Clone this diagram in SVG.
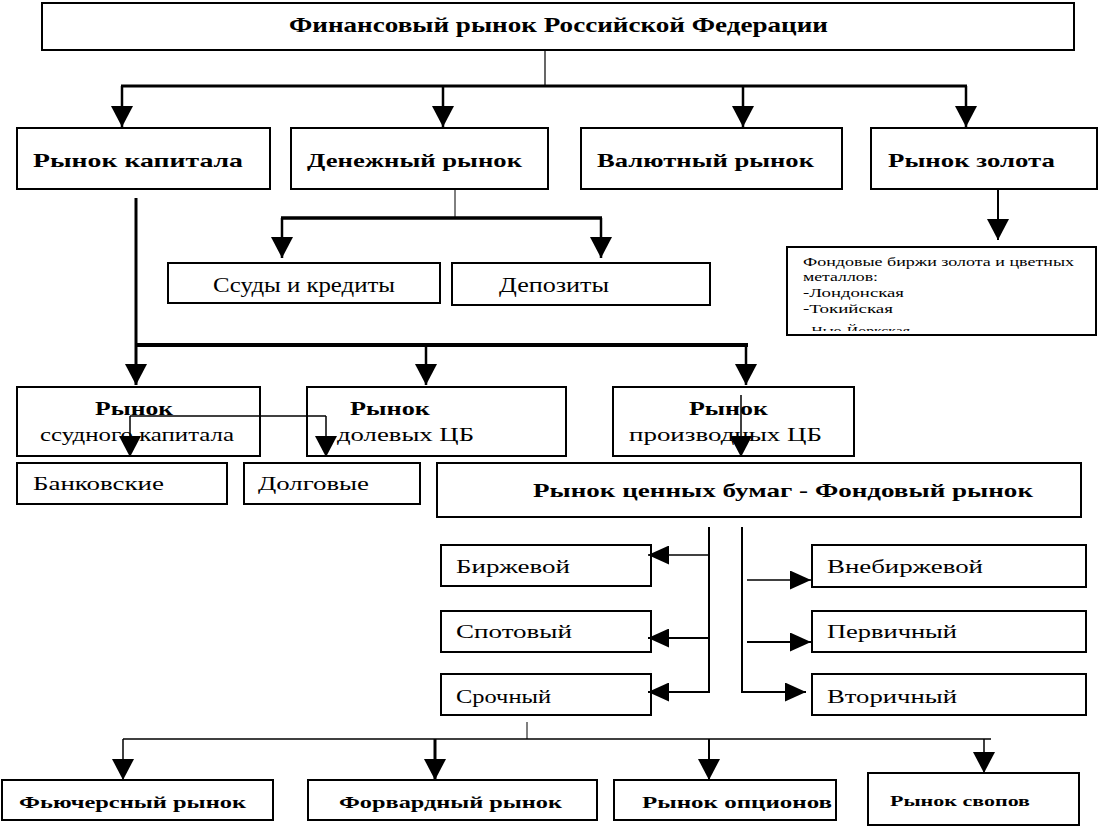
<svg xmlns="http://www.w3.org/2000/svg" width="1103" height="831" viewBox="0 0 1103 831">
<style>
.box{fill:#fff;stroke:#000;stroke-width:2}
.b{font-family:"Liberation Serif","DejaVu Serif",serif;font-weight:bold;fill:#000}
.n{font-family:"Liberation Serif","DejaVu Serif",serif;font-weight:normal;fill:#000}
.c line,.c path{stroke:#000;fill:none}
</style>
<defs>
<marker id="ah" viewBox="0 0 21 22" refX="21" refY="11" markerWidth="21" markerHeight="22" markerUnits="userSpaceOnUse" orient="auto">
<path d="M0,0 L21,11 L0,22 z" fill="#000"/>
</marker>
<marker id="ahs" viewBox="0 0 21 19" refX="21" refY="9.5" markerWidth="21" markerHeight="19" markerUnits="userSpaceOnUse" orient="auto">
<path d="M0,0 L21,9.5 L0,19 z" fill="#000"/>
</marker>
<clipPath id="goldclip"><rect x="787" y="248" width="308" height="83"/></clipPath>
</defs>

<g id="n-root"><rect class="box" x="42" y="3" width="1032" height="47"/>
<text class="b" x="289" y="32" font-size="21" textLength="539" lengthAdjust="spacingAndGlyphs">Финансовый  рынок Российской Федерации</text></g>

<g id="n-capital"><rect class="box" x="17" y="128" width="253" height="61"/>
<text class="b" x="33" y="167" font-size="19" textLength="210" lengthAdjust="spacingAndGlyphs">Рынок  капитала</text></g>
<g id="n-money"><rect class="box" x="291" y="128" width="257" height="61"/>
<text class="b" x="307" y="167" font-size="19" textLength="215" lengthAdjust="spacingAndGlyphs">Денежный рынок</text></g>
<g id="n-currency"><rect class="box" x="581" y="128" width="261" height="61"/>
<text class="b" x="597" y="167" font-size="19" textLength="217" lengthAdjust="spacingAndGlyphs">Валютный рынок</text></g>
<g id="n-gold"><rect class="box" x="871" y="128" width="226" height="61"/>
<text class="b" x="888" y="167" font-size="19" textLength="167" lengthAdjust="spacingAndGlyphs">Рынок золота</text></g>

<g id="n-loans"><rect class="box" x="168" y="263" width="272" height="40"/>
<text class="n" x="213" y="292" font-size="20" textLength="182" lengthAdjust="spacingAndGlyphs">Ссуды и кредиты</text></g>
<g id="n-deposits"><rect class="box" x="452" y="263" width="258" height="42"/>
<text class="n" x="499" y="292" font-size="20" textLength="110" lengthAdjust="spacingAndGlyphs">Депозиты</text></g>

<g id="n-goldex"><rect class="box" x="787" y="247" width="309" height="88"/>
<g clip-path="url(#goldclip)">
<text class="n" x="803" y="266" font-size="13" textLength="271" lengthAdjust="spacingAndGlyphs">Фондовые биржи золота и цветных</text>
<text class="n" x="803" y="281" font-size="13" textLength="75" lengthAdjust="spacingAndGlyphs">металлов:</text>
<text class="n" x="803" y="297" font-size="13" textLength="101" lengthAdjust="spacingAndGlyphs">-Лондонская</text>
<text class="n" x="803" y="313" font-size="13" textLength="90" lengthAdjust="spacingAndGlyphs">-Токийская</text>
<text class="n" x="806" y="335" font-size="13" textLength="104" lengthAdjust="spacingAndGlyphs">-Нью-Йоркская</text>
</g></g>

<g id="n-loancap"><rect class="box" x="17" y="387" width="243" height="69"/>
<text class="b" x="95" y="415" font-size="19" textLength="78" lengthAdjust="spacingAndGlyphs">Рынок</text>
<text class="n" x="40" y="441" font-size="19" textLength="194" lengthAdjust="spacingAndGlyphs">ссудного капитала</text></g>
<g id="n-equity"><rect class="box" x="307" y="387" width="259" height="69"/>
<text class="b" x="350" y="415" font-size="19" textLength="80" lengthAdjust="spacingAndGlyphs">Рынок</text>
<text class="n" x="337" y="441" font-size="19" textLength="137" lengthAdjust="spacingAndGlyphs">долевых ЦБ</text></g>
<g id="n-deriv"><rect class="box" x="613" y="387" width="241" height="69"/>
<text class="b" x="689" y="415" font-size="19" textLength="79" lengthAdjust="spacingAndGlyphs">Рынок</text>
<text class="n" x="629" y="441" font-size="19" textLength="193" lengthAdjust="spacingAndGlyphs">производных ЦБ</text></g>

<g id="n-bank"><rect class="box" x="17" y="463" width="210" height="41"/>
<text class="n" x="33" y="490" font-size="18" textLength="131" lengthAdjust="spacingAndGlyphs">Банковские</text></g>
<g id="n-debt"><rect class="box" x="244" y="463" width="176" height="41"/>
<text class="n" x="258" y="490" font-size="18" textLength="111" lengthAdjust="spacingAndGlyphs">Долговые</text></g>
<g id="n-securities"><rect class="box" x="437" y="463" width="644" height="54"/>
<text class="b" x="533" y="497" font-size="19" textLength="500" lengthAdjust="spacingAndGlyphs">Рынок  ценных бумаг - Фондовый рынок</text></g>

<g id="n-exch"><rect class="box" x="441" y="545" width="210" height="41"/>
<text class="n" x="456" y="573" font-size="19" textLength="114" lengthAdjust="spacingAndGlyphs">Биржевой</text></g>
<g id="n-spot"><rect class="box" x="441" y="611" width="210" height="41"/>
<text class="n" x="456" y="638" font-size="19" textLength="116" lengthAdjust="spacingAndGlyphs">Спотовый</text></g>
<g id="n-term"><rect class="box" x="441" y="674" width="210" height="41"/>
<text class="n" x="456" y="703" font-size="19" textLength="95" lengthAdjust="spacingAndGlyphs">Срочный</text></g>
<g id="n-otc"><rect class="box" x="812" y="545" width="274" height="42"/>
<text class="n" x="827" y="573" font-size="19" textLength="156" lengthAdjust="spacingAndGlyphs">Внебиржевой</text></g>
<g id="n-primary"><rect class="box" x="812" y="611" width="274" height="41"/>
<text class="n" x="827" y="638" font-size="19" textLength="130" lengthAdjust="spacingAndGlyphs">Первичный</text></g>
<g id="n-secondary"><rect class="box" x="812" y="674" width="274" height="41"/>
<text class="n" x="827" y="703" font-size="19" textLength="130" lengthAdjust="spacingAndGlyphs">Вторичный</text></g>

<g id="n-futures"><rect class="box" x="2" y="780" width="271" height="40"/>
<text class="b" x="19" y="808" font-size="17" textLength="227" lengthAdjust="spacingAndGlyphs">Фьючерсный рынок</text></g>
<g id="n-forward"><rect class="box" x="308" y="780" width="289" height="40"/>
<text class="b" x="339" y="808" font-size="17" textLength="223" lengthAdjust="spacingAndGlyphs">Форвардный рынок</text></g>
<g id="n-options"><rect class="box" x="614" y="780" width="222" height="40"/>
<text class="b" x="642" y="808" font-size="17" textLength="190" lengthAdjust="spacingAndGlyphs">Рынок  опционов</text></g>
<g id="n-swaps"><rect class="box" x="868" y="773" width="211" height="52"/>
<text class="b" x="890" y="806" font-size="15" textLength="140" lengthAdjust="spacingAndGlyphs">Рынок свопов</text></g>

<g id="connectors" class="c">
<line x1="545" y1="50" x2="545" y2="86" stroke-width="1.2"/>
<line x1="121" y1="86" x2="967" y2="86" stroke-width="3"/>
<line x1="122" y1="86" x2="122" y2="127" stroke-width="2.5" marker-end="url(#ah)"/>
<line x1="443" y1="86" x2="443" y2="127" stroke-width="2.5" marker-end="url(#ah)"/>
<line x1="743" y1="86" x2="743" y2="127" stroke-width="2.5" marker-end="url(#ah)"/>
<line x1="966" y1="86" x2="966" y2="127" stroke-width="2.5" marker-end="url(#ah)"/>

<line x1="455" y1="189" x2="455" y2="217" stroke-width="1"/>
<line x1="281" y1="218" x2="602" y2="218" stroke-width="3.5"/>
<line x1="282" y1="218" x2="282" y2="258" stroke-width="2.5" marker-end="url(#ah)"/>
<line x1="601" y1="218" x2="601" y2="258" stroke-width="2.5" marker-end="url(#ah)"/>

<line x1="998" y1="189" x2="998" y2="240" stroke-width="2" marker-end="url(#ah)"/>

<line x1="136" y1="198" x2="136" y2="385" stroke-width="3" marker-end="url(#ah)"/>
<line x1="136" y1="345" x2="748" y2="345" stroke-width="4"/>
<line x1="426" y1="345" x2="426" y2="385" stroke-width="2.5" marker-end="url(#ah)"/>
<line x1="746" y1="345" x2="746" y2="385" stroke-width="2.5" marker-end="url(#ah)"/>

<path d="M130,416 H326" stroke-width="1.5"/>
<line x1="130" y1="416" x2="130" y2="457" stroke-width="1.5" marker-end="url(#ah)"/>
<line x1="326" y1="416" x2="326" y2="457" stroke-width="1.5" marker-end="url(#ah)"/>
<line x1="741" y1="395" x2="741" y2="457" stroke-width="1.5" marker-end="url(#ah)"/>

<line x1="709" y1="527" x2="709" y2="693" stroke-width="2"/>
<line x1="709" y1="555" x2="648" y2="555" stroke-width="1.5" marker-end="url(#ahs)"/>
<line x1="709" y1="638" x2="648" y2="638" stroke-width="2" marker-end="url(#ahs)"/>
<line x1="709" y1="692" x2="648" y2="692" stroke-width="2" marker-end="url(#ahs)"/>
<line x1="742" y1="527" x2="742" y2="693" stroke-width="2"/>
<line x1="747" y1="580" x2="811" y2="580" stroke-width="1.5" marker-end="url(#ahs)"/>
<line x1="747" y1="642" x2="811" y2="642" stroke-width="2" marker-end="url(#ahs)"/>
<line x1="742" y1="692" x2="806" y2="692" stroke-width="2" marker-end="url(#ahs)"/>

<line x1="527" y1="722" x2="527" y2="739" stroke-width="1"/>
<line x1="123" y1="739" x2="991" y2="739" stroke-width="1.5"/>
<line x1="123" y1="739" x2="123" y2="780" stroke-width="1.5" marker-end="url(#ah)"/>
<line x1="435" y1="739" x2="435" y2="780" stroke-width="3" marker-end="url(#ah)"/>
<line x1="709" y1="739" x2="709" y2="780" stroke-width="2" marker-end="url(#ah)"/>
<line x1="984" y1="739" x2="984" y2="773" stroke-width="1.5" marker-end="url(#ah)"/>
</g>
</svg>
